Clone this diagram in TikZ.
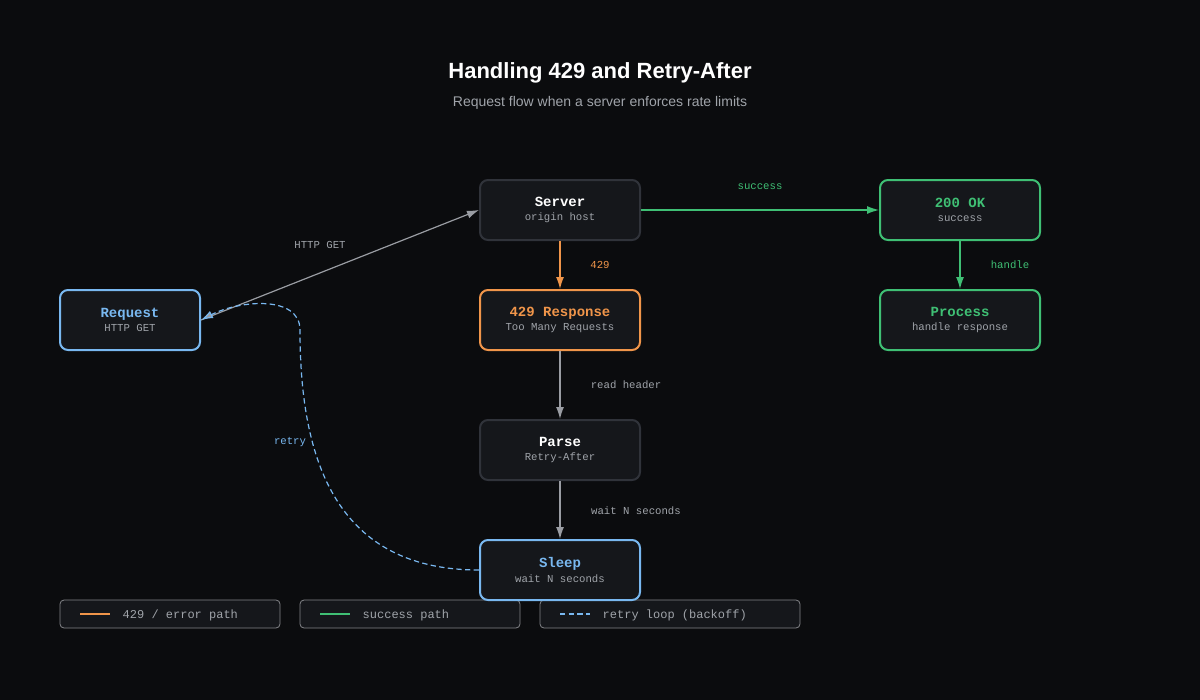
\documentclass[tikz,border=0pt]{standalone}
\usepackage{fontspec}
\setmainfont{Liberation Sans}
\setmonofont{Liberation Mono}
\usetikzlibrary{arrows.meta, positioning}
\definecolor{bg}{HTML}{0B0C0E}
\definecolor{boxfill}{HTML}{15171B}
\definecolor{boxline}{HTML}{30333A}
\definecolor{cblue}{HTML}{79B8F0}
\definecolor{corange}{HTML}{F0954A}
\definecolor{cgreen}{HTML}{3FBF74}
\definecolor{ctext}{HTML}{A0A4AA}
\definecolor{cedge}{HTML}{9A9DA3}
\begin{document}
\begin{tikzpicture}[x=0.75pt, y=-0.75pt,
  box/.style = {draw=boxline, fill=boxfill, line width=1.5pt, rounded corners=6pt,
    minimum width=120pt, minimum height=45pt, align=center, font=\ttfamily},
  ttl/.style = {font=\ttfamily\bfseries\fontsize{10.5}{13}\selectfont},
  sub/.style = {font=\ttfamily\fontsize{8}{10}\selectfont, text=ctext},
  lbl/.style = {font=\ttfamily\fontsize{8}{10}\selectfont, text=ctext},
  edge/.style = {draw=cedge, line width=0.9pt, -{Latex[length=9pt,width=6pt]}},
  leg/.style = {draw=boxline!60, fill=boxfill, rounded corners=3pt, line width=0.6pt}]
\fill[bg] (0,0) rectangle (1200,700);
\useasboundingbox (0,0) rectangle (1200,700);

% title
\node (title) at (600,73) {\color{white}\bfseries\fontsize{16.5}{20}\selectfont Handling 429 and Retry-After};
\node (subtitle) at (600,103) {\color{ctext}\fontsize{10.5}{13}\selectfont Request flow when a server enforces rate limits};

% legend
\draw[leg] (60,600) rectangle (280,628);
\draw[leg] (300,600) rectangle (520,628);
\draw[leg] (540,600) rectangle (800,628);
\coordinate (l1a) at (80,614);  \coordinate (l1b) at (110,614);
\coordinate (l2a) at (320,614); \coordinate (l2b) at (350,614);
\coordinate (l3a) at (560,614); \coordinate (l3b) at (590,614);
\draw[corange, line width=1.2pt] (l1a) -- (l1b);
\draw[cgreen, line width=1.2pt] (l2a) -- (l2b);
\draw[cblue, line width=1.2pt, dash pattern=on 4pt off 2.5pt] (l3a) -- (l3b);
\node[lbl, anchor=west, text=ctext] (leg1) at (118,615) {\fontsize{9}{11}\selectfont 429 / error path};
\node[lbl, anchor=west, text=ctext] (leg2) at (358,615) {\fontsize{9}{11}\selectfont success path};
\node[lbl, anchor=west, text=ctext] (leg3) at (598,615) {\fontsize{9}{11}\selectfont retry loop (backoff)};

% nodes
\node[box] (server) at (560,210) {\textcolor{white}{\ttfamily\bfseries\fontsize{10.5}{13}\selectfont Server}\\[-1pt]{\fontsize{8}{10}\selectfont\color{ctext}origin host}};
\node[box, minimum width=105pt, draw=cblue] (request) at (130,320) {\textcolor{cblue}{\ttfamily\bfseries\fontsize{10.5}{13}\selectfont Request}\\[-1pt]{\fontsize{8}{10}\selectfont\color{ctext}HTTP GET}};
\node[box, draw=corange] (resp) at (560,320) {\textcolor{corange}{\ttfamily\bfseries\fontsize{10.5}{13}\selectfont 429 Response}\\[-1pt]{\fontsize{8}{10}\selectfont\color{ctext}Too Many Requests}};
\node[box] (parse) at (560,450) {\textcolor{white}{\ttfamily\bfseries\fontsize{10.5}{13}\selectfont Parse}\\[-1pt]{\fontsize{8}{10}\selectfont\color{ctext}Retry-After}};
\node[box, draw=cblue] (sleep) at (560,570) {\textcolor{cblue}{\ttfamily\bfseries\fontsize{10.5}{13}\selectfont Sleep}\\[-1pt]{\fontsize{8}{10}\selectfont\color{ctext}wait N seconds}};
\node[box, draw=cgreen] (ok) at (960,210) {\textcolor{cgreen}{\ttfamily\bfseries\fontsize{10.5}{13}\selectfont 200 OK}\\[-1pt]{\fontsize{8}{10}\selectfont\color{ctext}success}};
\node[box, draw=cgreen] (process) at (960,320) {\textcolor{cgreen}{\ttfamily\bfseries\fontsize{10.5}{13}\selectfont Process}\\[-1pt]{\fontsize{8}{10}\selectfont\color{ctext}handle response}};

% connectors
\draw[edge] (request.east) -- (server.west);
\draw[edge, draw=corange, -{Latex[length=9pt,width=6pt,fill=corange]}] (server) -- (resp);
\draw[edge] (resp) -- (parse);
\draw[edge] (parse) -- (sleep);
\draw[edge, draw=cgreen] (server) -- (ok);
\draw[edge, draw=cgreen] (ok) -- (process);
\draw[cblue, line width=0.9pt, dash pattern=on 4pt off 2.5pt, -{Latex[length=9pt,width=6pt,fill=cedge]}]
  (sleep.west) .. controls (330,570) and (300,450) .. (300,330)
  .. controls (300,295) and (240,300) .. (request.east);

% labels
\node[lbl] (l-get) at (320,245) {HTTP GET};
\node[lbl, text=cgreen] (l-succ) at (760,187) {success};
\node[lbl, text=corange] (l-429) at (600,265) {429};
\node[lbl, text=cgreen] (l-handle) at (1010,265) {handle};
\node[lbl] (l-read) at (626,385) {read header};
\node[lbl] (l-wait) at (636,511) {wait N seconds};
\node[lbl, text=cblue] (l-retry) at (290,442) {retry};
\end{tikzpicture}
\end{document}
